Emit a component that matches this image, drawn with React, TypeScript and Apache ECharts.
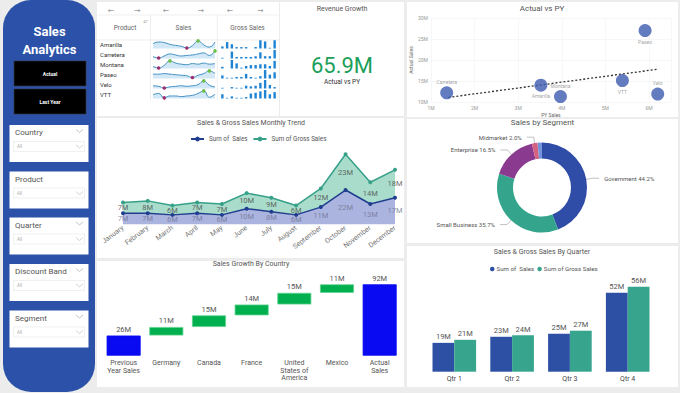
import React, { useEffect, useRef } from "react";
import * as echarts from "echarts";

// ---------- data ----------
const months = ["January", "February", "March", "April", "May", "June", "July", "August", "September", "October", "November", "December"];
const monthlySales = [7, 7, 6, 7, 6, 10, 8, 6, 11, 22, 13, 17];
const monthlyGross = [7, 8, 6, 7, 7, 10, 9, 6, 12, 23, 14, 18];

const countries = ["Previous\nYear Sales", "Germany", "Canada", "France", "United\nStates of\nAmerica", "Mexico", "Actual\nSales"];
const countryValues = [26, 11, 15, 14, 15, 11, 92];
const countryIsTotal = [true, false, false, false, false, false, true];

const quarters = ["Qtr 1", "Qtr 2", "Qtr 3", "Qtr 4"];
const quarterSales = [19, 23, 25, 52];
const quarterGross = [21, 24, 27, 56];

const segments = ["Government", "Small Business", "Enterprise", "Midmarket", "Channel Partners"];
const segmentShares = [44.2, 35.7, 16.5, 2.0, 1.6];

const scatterProducts = ["Carretera", "Amarilla", "Montana", "VTT", "Paseo", "Velo"];
const pySales = [1.36, 3.52, 3.97, 5.39, 5.91, 6.2];
const actualSales = [12.2, 14.0, 11.3, 15.1, 27.0, 11.9];
const trendPY = [1.4, 6.2];
const trendActual = [11.1, 17.8];

const products = ["Amarilla", "Carretera", "Montana", "Paseo", "Velo", "VTT"];
const productMonthlySales = [
  [17, 23, 21, 15, 11, 8, 2, 10, 27, 13, 5, 23],
  [4, 1, 5, 9, 7, 5, 6, 7, 9, 11, 6, 15],
  [4, 1, 6, 14, 10, 8, 7, 9, 8, 10, 8, 9],
  [8, 8, 9, 8, 7, 6, 5, 2, 6, 9, 14, 9],
  [5, 4, 1, 3, 4, 5, 4, 5, 7, 14, 6, 3],
  [6, 8, 1, 4, 4, 3, 4, 5, 8, 12, 2, 7],
];
const productMonthlyGross = [
  [3, 9, 6, 2, 2, 2, 0, 2, 12, 10, 1, 12],
  [1, 0, 9, 2, 2, 2, 2, 3, 8, 3, 3, 11],
  [2, 0, 10, 6, 1, 3, 4, 4, 5, 5, 3, 9],
  [4, 1, 1, 2, 2, 6, 2, 1, 3, 11, 5, 8],
  [1, 0, 2, 1, 1, 4, 3, 4, 8, 12, 5, 2],
  [6, 1, 3, 1, 1, 2, 7, 8, 10, 12, 6, 9],
];

const slicers = ["Country", "Product", "Quarter", "Discount Band", "Segment"];
const revenueGrowth = "65.9M";

// ---------- helpers ----------
const FONT = "Roboto";
const txt = (x: number, y: number, text: string, size: number, color: string, align = "center", weight = "normal", family = FONT) => ({
  type: "text",
  x,
  y,
  z: 20,
  silent: true,
  style: { text, fill: color, fontSize: size, fontFamily: family, fontWeight: weight, align, verticalAlign: "middle" },
});
const rect = (x: number, y: number, w: number, h: number, fill: string, r = 0, stroke?: string, z = -10) => ({
  type: "rect",
  z,
  silent: true,
  shape: { x, y, width: w, height: h, r },
  style: { fill, stroke: stroke || null, lineWidth: stroke ? 0.6 : 0 },
});
const chevron = (x: number, y: number, color: string) => ({
  type: "polyline",
  z: 20,
  silent: true,
  shape: { points: [[x - 3.5, y - 1.5], [x, y + 1.5], [x + 3.5, y - 1.5]] },
  style: { stroke: color, lineWidth: 0.7, fill: null },
});
const hline = (x1: number, x2: number, y: number, color: string) => ({
  type: "line", z: 5, silent: true, shape: { x1, y1: y, x2, y2: y }, style: { stroke: color, lineWidth: 0.6 },
});
const vline = (x: number, y1: number, y2: number, color: string) => ({
  type: "line", z: 5, silent: true, shape: { x1: x, y1, x2: x, y2 }, style: { stroke: color, lineWidth: 0.6 },
});

function buildGraphic() {
  const els: any[] = [];
  // panels
  els.push(rect(3, 0, 92, 392, "#2b51a8", 28));
  els.push(rect(97, 2, 182, 114, "#ffffff"));
  els.push(rect(280, 2, 124, 114, "#ffffff"));
  els.push(rect(407, 2, 271, 115, "#ffffff"));
  els.push(rect(97, 118, 307, 140, "#ffffff"));
  els.push(rect(407, 119, 271, 124, "#ffffff"));
  els.push(rect(97, 261, 307, 126, "#ffffff"));
  els.push(rect(407, 246, 271, 141, "#ffffff"));

  // sidebar
  els.push(txt(49.5, 31, "Sales", 13, "#ffffff", "center", "bold"));
  els.push(txt(49.5, 49, "Analytics", 13, "#ffffff", "center", "bold"));
  els.push(rect(14, 61, 72, 25, "#000000", 0, "#3a3a3a", 1));
  els.push(rect(14, 89, 72, 25, "#000000", 0, "#3a3a3a", 1));
  els.push(txt(50, 74, "Actual", 5, "#ffffff", "center", "bold"));
  els.push(txt(50, 102, "Last Year", 5, "#ffffff", "center", "bold"));
  const slicerTops = [125, 171.5, 217.5, 264, 310.5];
  slicers.forEach((name, i) => {
    const t = slicerTops[i];
    els.push(rect(9.5, t, 79, 37, "#ffffff", 0, undefined, 1));
    els.push(txt(15, t + 7.5, name, 8, "#555555", "left"));
    if (name !== "Product") els.push(chevron(79.5, t + 6, "#aaaaaa"));
    els.push(rect(13.5, t + 16.5, 71, 10, "#ffffff", 0, "#e6e6e6", 2));
    els.push(txt(17, t + 21.5, "All", 4.5, "#aaaaaa", "left"));
    els.push(chevron(79.5, t + 21.5, "#c0c0c0"));
  });

  // table panel
  const arrows: [number, string][] = [[111, "←"], [137.5, "→"], [166, "←"], [201, "→"], [230, "←"], [260.5, "→"]];
  arrows.forEach(([x, a]) => els.push(txt(x, 10, a, 7.5, "#999999", "center", "normal", "DejaVu Sans")));
  els.push(hline(97, 279, 15, "#e6e6e6"));
  els.push(hline(97, 279, 40, "#e2e2e2"));
  els.push(vline(150.5, 15, 100, "#e2e2e2"));
  els.push(vline(217.3, 15, 100, "#e2e2e2"));
  els.push(txt(125, 27.5, "Product", 6.5, "#666666"));
  els.push(txt(145.5, 21, "47", 4, "#999999"));
  els.push(txt(183.5, 27.5, "Sales", 6.5, "#666666"));
  els.push(txt(247.5, 27.5, "Gross Sales", 6.5, "#666666"));
  products.forEach((p, i) => els.push(txt(100, 44.5 + 10 * i, p, 6, "#333333", "left")));

  // revenue growth
  els.push(txt(342, 8.5, "Revenue Growth", 7, "#555555"));
  els.push(txt(342, 65, revenueGrowth, 22, "#1c9f5a"));
  els.push(txt(342, 82, "Actual vs PY", 6.5, "#333333"));

  // chart titles
  els.push(txt(542, 8.3, "Actual vs PY", 8, "#555555"));
  els.push(txt(251, 122.5, "Sales & Gross Sales Monthly Trend", 7, "#555555"));
  els.push(txt(542.5, 122.5, "Sales by Segment", 8, "#555555"));
  els.push(txt(251, 264.3, "Sales Growth By Country", 7, "#555555"));
  els.push(txt(542, 251.5, "Sales & Gross Sales By Quarter", 7, "#555555"));
  return els;
}

function buildOption() {
  // waterfall offsets from the values
  const wfBase: number[] = [];
  let run = 0;
  countryValues.forEach((v, i) => {
    if (countryIsTotal[i]) {
      wfBase.push(0);
      run = v;
    } else {
      wfBase.push(run);
      run += v;
    }
  });

  const salesLabelPts = monthlySales.map((v, i) => [i, v / 2, v]);
  const grossLabelPts = monthlyGross.map((v, i) => [i, monthlySales[i] + v / 2, v]);

  const grids: any[] = [
    { left: 123, top: 149.6, width: 272, height: 74.6 },
    { left: 102.3, top: 278.1, width: 298.7, height: 77.6 },
    { left: 425.4, top: 280.6, width: 231.2, height: 91.1 },
    { left: 431, top: 18, width: 239.8, height: 84 },
  ];
  const xAxes: any[] = [
    {
      gridIndex: 0, type: "category", data: months, boundaryGap: false,
      axisLine: { show: false }, axisTick: { show: false },
      axisLabel: { rotate: 37, fontSize: 7, color: "#777777", margin: 3, interval: 0 },
    },
    {
      gridIndex: 1, type: "category", data: countries,
      axisLine: { show: false }, axisTick: { show: false },
      axisLabel: { fontSize: 7, color: "#555555", margin: 4, interval: 0, lineHeight: 7.5 },
    },
    {
      gridIndex: 2, type: "category", data: quarters,
      axisLine: { show: false }, axisTick: { show: false },
      axisLabel: { fontSize: 7, color: "#444444", margin: 4 },
    },
    {
      gridIndex: 3, type: "value", min: 1, max: 6.5, interval: 1,
      axisLine: { show: false }, axisTick: { show: false },
      axisLabel: { fontSize: 5, color: "#9a9a9a", formatter: "{value}M", showMaxLabel: false, margin: 3 },
      splitLine: { lineStyle: { color: "#f1f1f1", width: 0.6 } },
      name: "PY Sales", nameLocation: "middle", nameGap: 10,
      nameTextStyle: { fontSize: 5, color: "#666666" },
    },
  ];
  const yAxes: any[] = [
    { gridIndex: 0, type: "value", min: 0, max: 48, show: false },
    { gridIndex: 1, type: "value", min: 0, max: 100, show: false },
    { gridIndex: 2, type: "value", min: 0, max: 60, show: false },
    {
      gridIndex: 3, type: "value", min: 10, max: 30, interval: 5,
      axisLine: { show: false }, axisTick: { show: false },
      axisLabel: { fontSize: 5, color: "#9a9a9a", formatter: "{value}M", margin: 3 },
      splitLine: { lineStyle: { color: "#f1f1f1", width: 0.6 } },
      name: "Actual Sales", nameLocation: "middle", nameGap: 18, nameRotate: 90,
      nameTextStyle: { fontSize: 5, color: "#666666" },
    },
  ];

  const series: any[] = [
    {
      name: "Sum of  Sales", type: "line", xAxisIndex: 0, yAxisIndex: 0, stack: "month",
      data: monthlySales, symbol: "circle", symbolSize: 4,
      itemStyle: { color: "#213e8e" }, lineStyle: { color: "#213e8e", width: 1.5 },
      areaStyle: { color: "#abb4df", opacity: 1 },
    },
    {
      name: "Sum of Gross Sales", type: "line", xAxisIndex: 0, yAxisIndex: 0, stack: "month",
      data: monthlyGross, symbol: "circle", symbolSize: 4,
      itemStyle: { color: "#36a088" }, lineStyle: { color: "#36a088", width: 1.5 },
      areaStyle: { color: "#a9dccb", opacity: 1 },
    },
    {
      type: "scatter", xAxisIndex: 0, yAxisIndex: 0, data: salesLabelPts, symbolSize: 1, silent: true,
      itemStyle: { color: "transparent" }, z: 5,
      label: { show: true, position: "inside", fontSize: 7.5, color: "#6d7390", formatter: (p: any) => p.data[2] + "M" },
    },
    {
      type: "scatter", xAxisIndex: 0, yAxisIndex: 0, data: grossLabelPts, symbolSize: 1, silent: true,
      itemStyle: { color: "transparent" }, z: 5,
      label: { show: true, position: "inside", fontSize: 7.5, color: "#444444", formatter: (p: any) => p.data[2] + "M" },
    },
    // waterfall
    {
      type: "bar", xAxisIndex: 1, yAxisIndex: 1, stack: "wf", data: wfBase, barWidth: 34, silent: true,
      itemStyle: { color: "transparent" },
    },
    {
      type: "bar", xAxisIndex: 1, yAxisIndex: 1, stack: "wf", barWidth: 34,
      data: countryValues.map((v, i) => ({
        value: v,
        itemStyle: countryIsTotal[i]
          ? { color: "#0909f2", borderColor: "#0909f2", borderWidth: 0.8 }
          : { color: "#00b04f", borderColor: "#5fd38f", borderWidth: 0.8 },
      })),
      label: { show: true, position: "top", distance: 2, fontSize: 7.5, color: "#555555", formatter: "{c}M" },
    },
    // quarters
    {
      name: "Sum of  Sales", type: "bar", xAxisIndex: 2, yAxisIndex: 2, data: quarterSales, barWidth: 21.8, barGap: "0%",
      itemStyle: { color: "#2d50a4" },
      label: { show: true, position: "top", distance: 2, fontSize: 7.5, color: "#555555", formatter: "{c}M" },
    },
    {
      name: "Sum of Gross Sales", type: "bar", xAxisIndex: 2, yAxisIndex: 2, data: quarterGross, barWidth: 21.8, barGap: "0%",
      itemStyle: { color: "#37a58e" },
      label: { show: true, position: "top", distance: 2, fontSize: 7.5, color: "#555555", formatter: "{c}M" },
    },
    // scatter
    {
      type: "line", xAxisIndex: 3, yAxisIndex: 3, data: trendPY.map((x, i) => [x, trendActual[i]]),
      symbol: "none", silent: true, lineStyle: { color: "#333333", width: 1.3, type: [2, 2] }, z: 3,
    },
    {
      type: "scatter", xAxisIndex: 3, yAxisIndex: 3, symbolSize: 13, z: 4,
      itemStyle: { color: "#3c5bb0" },
      data: scatterProducts.map((n, i) => ({
        name: n,
        value: [pySales[i], actualSales[i]],
        label: { position: ["Carretera", "Montana", "Velo"].includes(n) ? "top" : "bottom" },
      })),
      label: { show: true, fontSize: 5, color: "#8a8a8a", distance: 2, formatter: "{b}" },
    },
    // pie
    {
      type: "pie", center: [542, 187.5], radius: [29, 45], startAngle: 90, clockwise: true,
      data: segments.map((n, i) => ({
        name: n,
        value: segmentShares[i],
        itemStyle: { color: ["#2f4da6", "#34a58c", "#8b3b8f", "#d5627f", "#7494dc"][i] },
        label: { show: n !== "Channel Partners" },
        labelLine: { show: n !== "Channel Partners" },
      })),
      label: { fontSize: 6, color: "#555555", formatter: (p: any) => p.name + " " + p.value.toFixed(1) + "%" },
      labelLine: { length: 6, length2: 7, lineStyle: { color: "#999999", width: 0.6 } },
    },
  ];

  products.forEach((p, i) => {
    const gi = grids.length;
    grids.push({ left: 153, top: 40.5 + 10 * i, width: 62, height: 8 });
    xAxes.push({ gridIndex: gi, type: "category", data: months, boundaryGap: false, show: false });
    yAxes.push({ gridIndex: gi, type: "value", min: 0, max: (v: any) => v.max * 1.05, show: false });
    series.push({
      type: "line", xAxisIndex: gi, yAxisIndex: gi, data: productMonthlySales[i], smooth: 0.5,
      symbol: "none", silent: true,
      lineStyle: { color: "#3f8fc0", width: 1 },
      areaStyle: { color: "#d3e8f7", opacity: 1 },
      markPoint: {
        symbol: "circle", symbolSize: 3.5, silent: true, label: { show: false },
        data: [
          { type: "max", itemStyle: { color: "#6cc04a" } },
          { type: "min", itemStyle: { color: "#9c2f6e" } },
        ],
      },
    });
  });
  products.forEach((p, i) => {
    const gi = grids.length;
    grids.push({ left: 220, top: 40 + 10 * i, width: 57, height: 8.5 });
    xAxes.push({ gridIndex: gi, type: "category", data: months, show: false });
    yAxes.push({ gridIndex: gi, type: "value", min: 0, max: "dataMax", show: false });
    series.push({
      type: "bar", xAxisIndex: gi, yAxisIndex: gi, data: productMonthlyGross[i], barWidth: 2.4, silent: true,
      itemStyle: { color: "#1f84d4" },
    });
  });

  return {
    animation: false,
    backgroundColor: "#ececec",
    textStyle: { fontFamily: FONT },
    graphic: { elements: buildGraphic() },
    legend: [
      {
        left: 185, top: 131, itemWidth: 13, itemHeight: 6, itemGap: 5,
        textStyle: { fontSize: 6.3, color: "#555555", fontFamily: FONT },
        data: [{ name: "Sum of  Sales" }, { name: "Sum of Gross Sales" }],
        selectedMode: false,
      },
      {
        left: 485, top: 261, itemWidth: 4.5, itemHeight: 4.5, itemGap: 3,
        textStyle: { fontSize: 6.2, color: "#555555", fontFamily: FONT, padding: [0, 0, 0, -3] },
        data: [
          { name: "Sum of  Sales", icon: "circle", itemStyle: { color: "#2d50a4" } },
          { name: "Sum of Gross Sales", icon: "circle", itemStyle: { color: "#37a58e" } },
        ],
        selectedMode: false,
      },
    ],
    grid: grids,
    xAxis: xAxes,
    yAxis: yAxes,
    series,
  };
}

export default function App() {
  const ref = useRef<HTMLDivElement>(null);
  useEffect(() => {
    if (!ref.current) return;
    const chart = echarts.init(ref.current, undefined, { renderer: "svg" });
    chart.setOption(buildOption() as any);
    return () => chart.dispose();
  }, []);
  return <div ref={ref} style={{ position: "fixed", left: 0, top: 0, width: 680, height: 393 }} />;
}
